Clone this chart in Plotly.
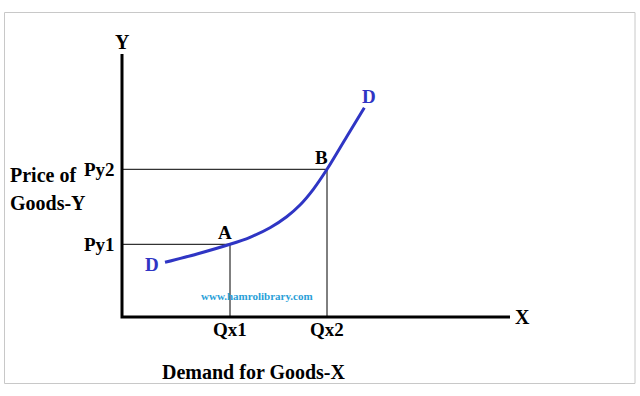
import plotly.graph_objects as go

# ---- data (conceptual units: quantity of X, price of Y) ----
qx_values = [10.8, 20.5]          # Qx1, Qx2
py_values = [7.27, 14.77]         # Py1, Py2
qx_labels = ["Qx1", "Qx2"]
py_labels = ["Py1", "Py2"]
point_labels = ["A", "B"]
curve_x = [4.3, 7.5, 10.8, 12.8, 14.8, 16.47, 17.8, 19.13, 20.5, 22.47, 24.23]
curve_y = [5.47, 6.3, 7.27, 7.97, 8.93, 10.03, 11.2, 12.77, 14.77, 18.03, 20.93]
axis_x_end = 38.8
axis_y_end = 26.3

FONT = "Liberation Serif"
BLUE = "#2f35c4"

fig = go.Figure()

# guide lines from the axes to points A and B
for q, p in zip(qx_values, py_values):
    fig.add_trace(go.Scatter(x=[0, q, q], y=[p, p, 0], mode="lines",
                             line=dict(color="black", width=1),
                             hoverinfo="skip", showlegend=False))

# axes
fig.add_trace(go.Scatter(x=[0, 0, axis_x_end], y=[axis_y_end, 0, 0], mode="lines",
                         line=dict(color="black", width=3),
                         hoverinfo="skip", showlegend=False))

# demand curve
fig.add_trace(go.Scatter(x=curve_x, y=curve_y, mode="lines",
                         line=dict(color=BLUE, width=3, shape="spline", smoothing=0.8),
                         hoverinfo="skip", showlegend=False))

ann = []
def txt(x, y, s, size, color="black", xanchor="center", yanchor="middle"):
    ann.append(dict(x=x, y=y, xref="x", yref="y", text=s, showarrow=False,
                    xanchor=xanchor, yanchor=yanchor,
                    font=dict(family=FONT, size=size, color=color)))

txt(0, axis_y_end + 1.2, "<b>Y</b>", 20)
txt(axis_x_end + 1.25, 0.05, "<b>X</b>", 20)

for p, lab in zip(py_values, py_labels):
    txt(-0.5, p, "<b>%s</b>" % lab, 19, xanchor="right")
for q, lab in zip(qx_values, qx_labels):
    txt(q, -1.25, "<b>%s</b>" % lab, 19)
for q, p, lab in zip(qx_values, py_values, point_labels):
    txt(q - 0.55, p + 1.15, "<b>%s</b>" % lab, 19)

txt(curve_x[0] - 1.3, curve_y[0] - 0.25, "<b>D</b>", 19, color=BLUE)
txt(curve_x[-1] + 0.5, curve_y[-1] + 1.1, "<b>D</b>", 19, color=BLUE)

txt(-11.45, 14.2, "<b>Price of</b>", 20, xanchor="left")
txt(-11.45, 11.45, "<b>Goods-Y</b>", 20, xanchor="left")
txt(13.2, -5.5, "<b>Demand for Goods-X</b>", 20)
txt(13.5, 2.1, "<b>www.hamrolibrary.com</b>", 11, color="#2a9fd8")

fig.update_layout(
    width=640, height=396,
    margin=dict(l=0, r=0, t=0, b=0),
    paper_bgcolor="white", plot_bgcolor="white",
    xaxis=dict(range=[-12.2, 51.8], visible=False, fixedrange=True),
    yaxis=dict(range=[-7.9, 31.7], visible=False, fixedrange=True),
    annotations=ann,
    shapes=[dict(type="rect", xref="paper", yref="paper",
                 x0=4.5 / 640, x1=635 / 640, y0=1 - 383.5 / 396, y1=1 - 12.5 / 396,
                 line=dict(color="#c8c8c8", width=1))],
    showlegend=False,
)

fig.write_html("out.html", config={"displayModeBar": False},
               post_script="document.body.style.margin='0';document.body.style.overflow='hidden';")
